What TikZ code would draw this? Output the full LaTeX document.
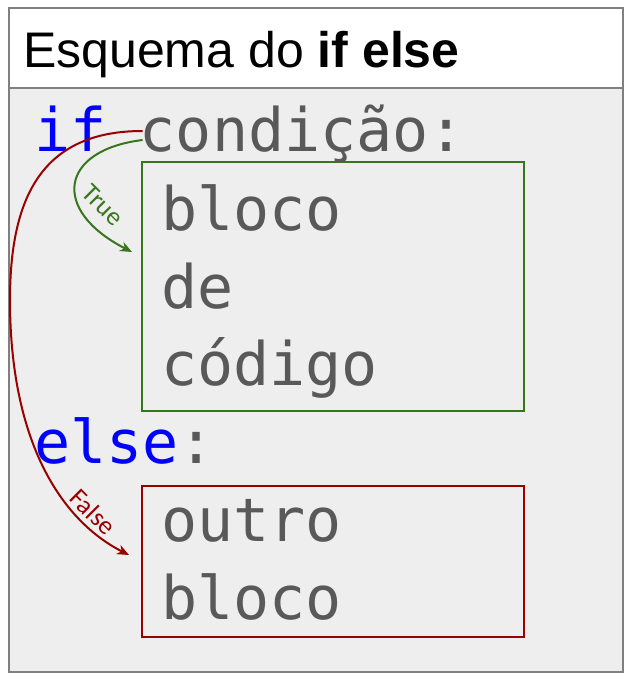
\documentclass[tikz,border=0pt]{standalone}
\usepackage{fontspec}
\setmainfont{Liberation Sans}
\newfontfamily\codefont{DejaVu Sans Mono}
\newfontfamily\labelfont{Carlito}
\usetikzlibrary{arrows.meta}
\definecolor{codegray}{HTML}{595959}
\definecolor{kwblue}{HTML}{0000FF}
\definecolor{truegreen}{HTML}{38761D}
\definecolor{falsered}{HTML}{990000}
\definecolor{bodybg}{HTML}{EEEEEE}
\definecolor{framegray}{HTML}{808080}
\begin{document}
\begin{tikzpicture}[x=1pt,y=-1pt,
 code/.style={inner sep=0pt, anchor=base west, font=\codefont\fontsize{60}{60}\selectfont, text=codegray},
 kw/.style={code, text=kwblue},
 blockbox/.style={draw, line width=2pt, minimum width=382pt, inner sep=0pt},
 flow/.style={line width=2pt, -{Stealth[length=12pt,width=10pt]}},
 lbl/.style={font=\labelfont\fontsize{26}{26}\selectfont, rotate=-45, inner sep=0pt}
]
\useasboundingbox (0,0) rectangle (626,682);
\draw[framegray, line width=1.5pt, fill=white] (9,8) rectangle (623,88);
\draw[framegray, line width=1.5pt, fill=bodybg] (9,88) rectangle (623,672);
\node[anchor=base west, inner sep=0pt, font=\fontsize{50}{50}\selectfont] (title) at (23,68) {Esquema do \textbf{if else}};

\node[blockbox, draw=truegreen, minimum height=249pt] (gbox) at (333,286.5) {};
\node[blockbox, draw=falsered, minimum height=151pt] (rbox) at (333,561.5) {};

\node[kw] (if) at (34,151) {if};
\node[code] (cond) at (139.6,151) {condição:};
\node[code] (l1) at (161,230) {bloco};
\node[code] (l2) at (161,308) {de};
\node[code] (l3) at (161,385) {código};
\node[code] (else) at (34,463) {\textcolor{kwblue}{else}:};
\node[code] (l4) at (161,541) {outro};
\node[code] (l5) at (161,619) {bloco};

\draw[flow, falsered] ([xshift=3pt,yshift=20pt]cond.base west) .. controls (40,131) and (10,200) .. (10,300) .. controls (10,440) and (60,520) .. ([xshift=-12pt,yshift=6.5pt]rbox.west);
\draw[flow, truegreen] ([xshift=3pt,yshift=11pt]cond.base west) .. controls (60,150) and (50,210) .. ([xshift=-9pt,yshift=34.5pt]gbox.west);

\node[lbl, text=truegreen] (tlabel) at (103,205) {True};
\node[lbl, text=falsered] (flabel) at (93,512) {False};
\end{tikzpicture}
\end{document}
